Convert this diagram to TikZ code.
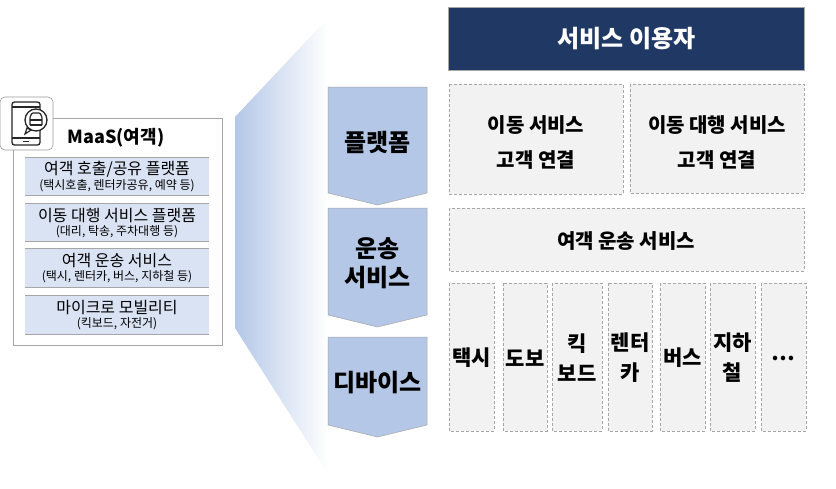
\documentclass[tikz,border=0pt]{standalone}
\usepackage{fontspec}
\setmainfont{Noto Sans CJK KR}
\usetikzlibrary{calc}
\definecolor{navy}{HTML}{1F3864}
\definecolor{chev}{HTML}{B4C7E7}
\definecolor{band}{HTML}{DAE3F3}
\definecolor{boxfill}{HTML}{F2F2F2}
\definecolor{boxline}{HTML}{A6A6A6}
\tikzset{
  dbox/.style={draw=boxline, dash pattern=on 3pt off 2pt, fill=boxfill, line width=0.6pt},
  boxtxt/.style={font=\fontsize{20}{27}\selectfont\bfseries, align=center},
  chevtxt/.style={font=\fontsize{24}{29}\selectfont\bfseries, align=center},
  chevshape/.style={fill=chev, draw=boxline, line width=0.5pt},
  bandline/.style={draw=boxline, line width=0.6pt},
}
\begin{document}
\begin{tikzpicture}[x=1pt,y=-1pt]
\useasboundingbox (0,0) rectangle (836,488);
% gradient fan
\shade[left color=chev, right color=white] (235,117) -- (328,18) -- (328,474) -- (235,328) -- cycle;
% left panel
\draw[draw=boxline, line width=0.6pt, fill=white] (13,118) rectangle (222,345);
\node[font=\fontsize{18}{20}\selectfont\bfseries] (maas) at (116,138) {MaaS(여객)};
% bands
\foreach \ya/\yb/\t/\s [count=\i] in {157/195/{여객 호출/공유 플랫폼}/{(택시호출, 렌터카공유, 예약 등)},
  203/241/{이동 대행 서비스 플랫폼}/{(대리, 탁송, 주차대행 등)},
  248/287/{여객 운송 서비스}/{(택시, 렌터카, 버스, 지하철 등)},
  295/334/{마이크로 모빌리티}/{(킥보드, 자전거)}}{
  \fill[band] (25,\ya) rectangle (209,\yb);
  \draw[bandline] (25,\ya) -- (209,\ya);
  \draw[bandline] (25,\yb) -- (209,\yb);
  \node[font=\fontsize{16}{18}\selectfont] (bt\i) at (117,\ya+12.5) {\t};
  \node[font=\fontsize{12}{13}\selectfont] (bs\i) at (117,\ya+29) {\s};
}
% icon
\draw[draw=gray!80, line width=0.6pt, fill=white, rounded corners=5pt] (0,97) rectangle (53,150) node[midway] (icon) {};
\draw[line width=1.3pt, rounded corners=2.5pt, black!85] (12,102) rectangle (40,145);
\draw[line width=1.2pt, black!85] (12,138) -- (40,138);
\draw[line width=1.2pt, black!85] (23,141.5) -- (29,141.5);
\draw[line width=1.2pt, black!85] (12,107) -- (40,107);
\filldraw[line width=1.3pt, draw=black!85, fill=white] (36,120) circle (11pt);
\draw[line width=1.2pt, draw=black!85, fill=white] (27,128) -- (25,134) -- (31,130) -- cycle;
\draw[line width=1.2pt, black!85, rounded corners=1pt] (30,125) -- (30,117) -- (32,113) -- (40,113) -- (42,117) -- (42,125);
\draw[line width=1.2pt, black!85] (30,120) -- (42,120);
\draw[line width=1.2pt, black!85] (30,125) -- (42,125);
% chevrons
\foreach \ya/\yb/\t [count=\i] in {87/193/{플랫폼}, 208/315/{운송\\서비스}, 337/425/{디바이스}}{
  \draw[chevshape] (328,\ya) -- (427,\ya) -- (427,\yb) -- (377.5,\yb+12) -- (328,\yb) -- cycle;
  \node[chevtxt] (ch\i) at (377.5,{(\ya+\yb)/2+2}) {\t};
}
% right top
\node[fill=navy, draw=boxline, line width=0.6pt, minimum width=356pt, minimum height=63pt, anchor=north west, inner sep=0pt] (user) at (448,7) {};
\node[font=\fontsize{24}{28}\selectfont\bfseries, text=white] (usertxt) at (user.center) {서비스 이용자};
\draw[dbox] (449,84) rectangle (623,194);
\node[boxtxt, font=\fontsize{20}{35}\selectfont\bfseries] (p1) at (536,142) {이동 서비스\\고객 연결};
\draw[dbox] (630,84) rectangle (804,193);
\node[boxtxt, font=\fontsize{20}{35}\selectfont\bfseries] (p2) at (717,142) {이동 대행 서비스\\고객 연결};
\draw[dbox] (449,208) rectangle (804,271);
\node[boxtxt] (pt) at (626,241) {여객 운송 서비스};
% device boxes
\foreach \xa/\xb/\t [count=\i] in {449/494/{택시}, 503/547/{도보}, 552/602/{킥\\보드}, 608/652/{렌터\\카}, 660/705/{버스}, 710/755/{지하\\철}, 761/806/{…}}{
  \draw[dbox] (\xa,283) rectangle (\xb,431);
  \node[boxtxt, font=\fontsize{21}{30}\selectfont\bfseries] (d\i) at ({(\xa+\xb)/2},358) {\t};
}
\end{tikzpicture}
\end{document}
